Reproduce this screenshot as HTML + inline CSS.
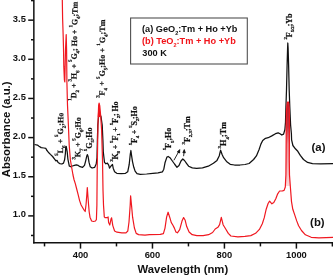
<!DOCTYPE html>
<html><head><meta charset="utf-8"><style>
html,body{margin:0;padding:0;background:#fff;}
svg{display:block;}
.sans{font-family:"Liberation Sans",Arial,sans-serif;font-weight:bold;}
.ser{font-family:"Liberation Serif","Times New Roman",serif;font-weight:bold;font-size:8.1px;fill:#111;stroke:#111;stroke-width:0.22px;}
.ser .s{font-size:5px;}
</style></head><body>
<svg width="333" height="275" viewBox="0 0 333 275">
<rect width="333" height="275" fill="#fff"/>
<polyline fill="none" stroke="#111" stroke-width="1.25" stroke-linejoin="round" points="34.5,144.5 37.4,145.1 39.0,146.2 41.2,147.6 43.9,148.0 45.9,148.4 46.6,150.0 48.3,152.2 50.4,154.4 52.6,156.5 54.8,159.3 55.9,160.9 57.0,160.4 58.1,162.5 59.7,163.6 61.9,164.0 63.5,163.1 64.6,159.8 65.4,153.3 65.7,147.3 66.3,146.5 67.2,151.8 67.9,159.1 68.6,162.7 69.3,166.0 70.5,166.7 72.4,166.0 74.4,165.4 76.3,164.8 78.2,165.4 80.1,166.7 82.6,167.3 84.5,165.4 85.8,160.3 86.8,155.9 87.3,154.6 88.1,156.5 89.0,162.2 90.2,166.7 92.1,168.0 94.7,167.3 96.2,164.1 97.0,157.8 97.4,140.0 97.8,125.0 98.6,116.5 99.8,114.0 101.0,116.5 102.2,125.0 102.9,140.0 103.3,152.0 104.5,162.4 105.9,163.8 107.4,163.1 108.8,165.3 109.5,168.2 111.0,166.0 112.5,164.5 113.2,168.2 114.6,171.8 116.8,173.3 121.2,173.6 125.5,173.3 127.7,171.8 129.2,164.5 130.3,154.0 130.9,150.5 131.5,155.2 132.5,161.6 133.8,167.3 135.1,171.1 137.0,173.7 140.2,174.3 146.6,174.0 152.9,173.3 158.0,172.8 162.5,171.8 163.8,169.2 165.0,162.8 166.9,157.1 168.2,156.5 170.0,157.7 172.0,160.5 174.5,164.0 177.0,167.3 179.0,165.5 181.0,161.0 182.8,159.0 184.5,160.5 186.5,163.3 188.6,166.2 192.3,167.9 196.6,168.4 202.5,167.9 208.3,166.2 213.4,163.3 217.0,160.4 219.2,156.0 220.6,150.2 222.1,154.5 223.6,157.7 226.5,161.4 230.2,164.3 234.5,165.0 240.0,165.0 245.0,164.5 249.1,163.5 253.6,159.5 256.4,155.9 259.1,149.5 260.9,144.1 262.7,140.5 265.5,138.3 268.2,137.7 271.8,135.9 275.5,133.7 278.2,132.8 280.0,133.7 281.8,135.0 283.6,134.1 284.9,129.5 285.5,122.3 285.9,107.5 286.5,90.0 287.1,65.0 287.6,48.0 287.8,43.0 288.1,48.0 288.6,65.0 289.2,90.0 289.8,107.0 290.6,125.0 291.4,133.7 291.6,139.8 292.9,145.5 295.4,148.8 297.8,151.3 300.3,155.4 303.5,159.5 307.6,162.4 312.5,163.6 320.7,163.9 334.0,163.6"/>
<polygon fill="#f2141a" points="97.7,117 98.5,105 99.1,103.2 99.8,106 100.6,117"/>
<defs><linearGradient id="gp" x1="0" y1="0" x2="0" y2="1"><stop offset="0" stop-color="#b41c2c"/><stop offset="0.3" stop-color="#c83040"/><stop offset="0.5" stop-color="#ec8890"/><stop offset="1" stop-color="#fad8da"/></linearGradient></defs>
<polygon fill="url(#gp)" points="285.4,186 285.9,175 286.1,150 286.2,135 286.2,122 286.5,110 287.2,102.8 288.0,101.8 288.8,103 289.3,110 289.5,122 289.4,140 289.3,160 289.5,175 290.0,186"/>
<polyline fill="none" stroke="#f01820" stroke-width="1.2" stroke-linejoin="round" points="62.0,-5.0 62.3,0.0 62.6,18.2 63.2,36.4 63.5,48.2 63.8,66.4 64.4,80.0 64.8,82.0 65.5,50.0 66.2,34.5 66.6,50.0 66.9,82.0 67.5,105.0 68.4,125.0 69.2,145.0 70.4,160.0 71.6,167.0 73.0,175.0 74.0,179.5 75.3,183.6 76.7,189.0 78.2,194.8 79.6,200.6 81.1,205.0 83.6,209.3 85.2,211.5 86.1,204.0 86.8,195.0 87.3,187.5 87.9,196.0 88.6,205.0 89.2,212.0 90.0,217.2 91.6,221.0 93.5,221.5 95.5,221.0 96.4,219.5 96.9,205.0 97.2,170.0 97.7,140.0 98.1,120.0 98.6,106.0 99.1,103.2 99.8,106.0 100.6,115.0 101.6,130.0 102.5,160.0 103.0,190.0 103.5,205.0 104.3,216.9 105.0,217.6 107.4,217.6 108.1,217.0 108.6,222.5 109.8,225.0 111.0,219.0 111.6,217.8 112.8,225.6 114.6,231.0 117.0,232.2 121.8,232.8 126.0,232.8 127.8,231.0 129.0,222.0 130.2,205.0 130.6,195.8 131.5,205.0 132.6,217.2 134.4,228.0 136.2,233.4 138.6,234.6 145.0,235.2 149.4,234.7 160.3,234.4 163.4,233.6 165.0,228.1 166.6,217.2 168.1,212.2 169.7,217.2 171.3,222.7 172.8,225.0 174.4,228.1 175.9,232.0 177.4,232.8 179.7,229.7 182.0,221.1 183.6,217.5 185.2,220.3 186.7,226.6 189.1,232.0 192.2,234.7 196.9,235.6 203.1,235.6 208.6,234.7 212.6,232.5 215.2,229.0 217.9,227.3 219.6,224.7 221.3,217.3 223.1,224.7 225.7,229.0 228.3,233.4 230.9,236.0 237.9,236.9 244.9,236.4 250.8,235.6 255.6,233.3 259.4,229.4 262.3,223.7 264.2,217.9 266.2,209.2 268.1,203.5 269.6,201.2 271.9,203.8 273.8,202.5 275.8,198.7 277.7,193.8 279.6,191.0 282.5,190.8 284.1,190.4 285.3,187.0 285.9,175.0 286.1,150.0 286.2,135.0 286.2,122.0 286.5,110.0 287.2,102.8 288.0,101.8 288.8,103.0 289.3,110.0 289.5,122.0 289.4,140.0 289.3,160.0 289.5,175.0 290.3,186.0 291.5,201.6 292.8,209.3 294.8,215.1 296.7,220.9 298.6,225.7 301.5,230.5 305.4,234.8 311.2,237.3 318.9,237.9 334.0,237.3"/>
<g stroke="#111" stroke-width="1.5" fill="none">
<line x1="33.85" y1="-1" x2="33.85" y2="243.54999999999998"/>
<line x1="33.15" y1="242.85" x2="334" y2="242.85"/>
<line x1="80.50" y1="242.85" x2="80.50" y2="248.6"/><line x1="152.47" y1="242.85" x2="152.47" y2="248.6"/><line x1="224.43" y1="242.85" x2="224.43" y2="248.6"/><line x1="296.40" y1="242.85" x2="296.40" y2="248.6"/><line x1="44.52" y1="242.85" x2="44.52" y2="246.4"/><line x1="116.48" y1="242.85" x2="116.48" y2="246.4"/><line x1="188.45" y1="242.85" x2="188.45" y2="246.4"/><line x1="260.41" y1="242.85" x2="260.41" y2="246.4"/><line x1="332.38" y1="242.85" x2="332.38" y2="246.4"/><line x1="33.85" y1="215.90" x2="28.2" y2="215.90"/><line x1="33.85" y1="176.75" x2="28.2" y2="176.75"/><line x1="33.85" y1="137.60" x2="28.2" y2="137.60"/><line x1="33.85" y1="98.45" x2="28.2" y2="98.45"/><line x1="33.85" y1="59.30" x2="28.2" y2="59.30"/><line x1="33.85" y1="20.15" x2="28.2" y2="20.15"/><line x1="33.85" y1="235.47" x2="31.0" y2="235.47"/><line x1="33.85" y1="196.33" x2="31.0" y2="196.33"/><line x1="33.85" y1="157.18" x2="31.0" y2="157.18"/><line x1="33.85" y1="118.03" x2="31.0" y2="118.03"/><line x1="33.85" y1="78.88" x2="31.0" y2="78.88"/><line x1="33.85" y1="39.73" x2="31.0" y2="39.73"/><line x1="33.85" y1="0.58" x2="31.0" y2="0.58"/>
</g>
<g class="sans" font-size="9.4" fill="#111">
<text x="25.9" y="217.40" text-anchor="end">1.0</text><text x="25.9" y="178.25" text-anchor="end">1.5</text><text x="25.9" y="139.10" text-anchor="end">2.0</text><text x="25.9" y="99.95" text-anchor="end">2.5</text><text x="25.9" y="60.80" text-anchor="end">3.0</text><text x="25.9" y="21.65" text-anchor="end">3.5</text><text x="80.50" y="258.4" text-anchor="middle">400</text><text x="152.47" y="258.4" text-anchor="middle">600</text><text x="224.43" y="258.4" text-anchor="middle">800</text><text x="296.40" y="258.4" text-anchor="middle">1000</text>
</g>
<text class="sans" font-size="11.3" x="182.9" y="272.8" text-anchor="middle" fill="#111">Wavelength (nm)</text>
<text class="sans" font-size="11.35" transform="translate(9.6,129.4) rotate(-90)" text-anchor="middle" fill="#111">Absorbance (a.u.)</text>
<rect x="130.6" y="18" width="116.7" height="46" fill="none" stroke="#505050" stroke-width="1.1"/>
<g class="sans" font-size="9.2">
<text x="142" y="31.8" fill="#111">(a) GeO<tspan font-size="5.5" dy="3.1">2</tspan><tspan dy="-3.1">:Tm + Ho +Yb</tspan></text>
<text x="142" y="44" fill="#f2141a">(b) TeO<tspan font-size="5.5" dy="3.1">2</tspan><tspan dy="-3.1">:Tm + Ho +Yb</tspan></text>
<text x="142.3" y="56.2" fill="#111">300 K</text>
</g>
<text class="sans" font-size="11.4" x="311.5" y="150.7" fill="#111">(a)</text>
<text class="sans" font-size="11.4" x="310.1" y="226.3" fill="#111">(b)</text>
<g class="ser">
<text transform="translate(62.9,155.8) rotate(-89.5)" textLength="43.0" lengthAdjust="spacing"><tspan class="s" dy="-5.00">5</tspan><tspan dy="5.00">L</tspan><tspan class="s" dy="2.60">6</tspan><tspan dy="-2.60"> + </tspan><tspan class="s" dy="-5.00">5</tspan><tspan dy="5.00">G</tspan><tspan class="s" dy="2.60">2</tspan><tspan dy="-2.60">;Ho</tspan></text><text transform="translate(80.3,159.5) rotate(-89.5)" textLength="42.2" lengthAdjust="spacing"><tspan class="s" dy="-5.00">3</tspan><tspan dy="5.00">K</tspan><tspan class="s" dy="2.60">7</tspan><tspan dy="-2.60"> + </tspan><tspan class="s" dy="-5.00">5</tspan><tspan dy="5.00">G</tspan><tspan class="s" dy="2.60">6</tspan><tspan dy="-2.60">;Ho</tspan></text><text transform="translate(91.5,151.2) rotate(-90)" textLength="23.8" lengthAdjust="spacing"><tspan class="s" dy="-5.00">5</tspan><tspan dy="5.00">G</tspan><tspan class="s" dy="2.60">5</tspan><tspan dy="-2.60">;Ho</tspan></text><text transform="translate(76.2,100.7) rotate(-89.2)" textLength="98.9" lengthAdjust="spacing"><tspan class="s" dy="-5.00">1</tspan><tspan dy="5.00">D</tspan><tspan class="s" dy="2.60">2</tspan><tspan dy="-2.60"> + </tspan><tspan class="s" dy="-5.00">3</tspan><tspan dy="5.00">H</tspan><tspan class="s" dy="2.60">6</tspan><tspan dy="-2.60"> + </tspan><tspan class="s" dy="-5.00">5</tspan><tspan dy="5.00">G</tspan><tspan class="s" dy="2.60">4</tspan><tspan dy="-2.60">; Ho + </tspan><tspan class="s" dy="-5.00">1</tspan><tspan dy="5.00">G</tspan><tspan class="s" dy="2.60">4</tspan><tspan dy="-2.60">;Tm</tspan></text><text transform="translate(104.5,97.9) rotate(-89.5)" textLength="78.3" lengthAdjust="spacing"><tspan class="s" dy="-5.00">3</tspan><tspan dy="5.00">F</tspan><tspan class="s" dy="2.60">4</tspan><tspan dy="-2.60"> + </tspan><tspan class="s" dy="-5.00">5</tspan><tspan dy="5.00">G</tspan><tspan class="s" dy="2.60">5</tspan><tspan dy="-2.60">;Ho + </tspan><tspan class="s" dy="-5.00">1</tspan><tspan dy="5.00">G</tspan><tspan class="s" dy="2.60">4</tspan><tspan dy="-2.60">;Tm</tspan></text><text transform="translate(117.6,161.8) rotate(-90)" textLength="60.4" lengthAdjust="spacing"><tspan class="s" dy="-5.00">3</tspan><tspan dy="5.00">K</tspan><tspan class="s" dy="2.60">8</tspan><tspan dy="-2.60"> + </tspan><tspan class="s" dy="-5.00">5</tspan><tspan dy="5.00">F</tspan><tspan class="s" dy="2.60">1</tspan><tspan dy="-2.60"> + </tspan><tspan class="s" dy="-5.00">5</tspan><tspan dy="5.00">F</tspan><tspan class="s" dy="2.60">2</tspan><tspan dy="-2.60">; Ho</tspan></text><text transform="translate(136.5,145.3) rotate(-90)" textLength="39.0" lengthAdjust="spacing"><tspan class="s" dy="-5.00">5</tspan><tspan dy="5.00">F</tspan><tspan class="s" dy="2.60">4</tspan><tspan dy="-2.60"> + </tspan><tspan class="s" dy="-5.00">5</tspan><tspan dy="5.00">S</tspan><tspan class="s" dy="2.60">2</tspan><tspan dy="-2.60">;Ho</tspan></text><text transform="translate(171.3,150.3) rotate(-90)" textLength="22.6" lengthAdjust="spacing"><tspan class="s" dy="-5.00">5</tspan><tspan dy="5.00">F</tspan><tspan class="s" dy="2.60">5</tspan><tspan dy="-2.60">;Ho</tspan></text><text transform="translate(189.8,144.5) rotate(-90)" textLength="28.2" lengthAdjust="spacing"><tspan class="s" dy="-5.00">3</tspan><tspan dy="5.00">F</tspan><tspan class="s" dy="2.60">2,3</tspan><tspan dy="-2.60">;Tm</tspan></text><text transform="translate(226.0,148.5) rotate(-90)" textLength="26.5" lengthAdjust="spacing"><tspan class="s" dy="-5.00">3</tspan><tspan dy="5.00">H</tspan><tspan class="s" dy="2.60">4</tspan><tspan dy="-2.60">;Tm</tspan></text><text transform="translate(291.8,39.5) rotate(-90)" textLength="26.0" lengthAdjust="spacing"><tspan class="s" dy="-5.00">2</tspan><tspan dy="5.00">F</tspan><tspan class="s" dy="2.60">5/2</tspan><tspan dy="-2.60">;Yb</tspan></text>
</g>
<g stroke="#111" stroke-width="0.9" fill="#111">
<line x1="173.9" y1="160.3" x2="178.8" y2="151.5"/>
<path d="M179.7,149.6 L177.4,152.0 L179.6,153.0 Z"/>
<line x1="183.6" y1="156.2" x2="184.1" y2="151.8"/>
<path d="M184.3,149.6 L182.9,152.6 L185.3,152.8 Z"/>
</g>
</svg>
</body></html>
